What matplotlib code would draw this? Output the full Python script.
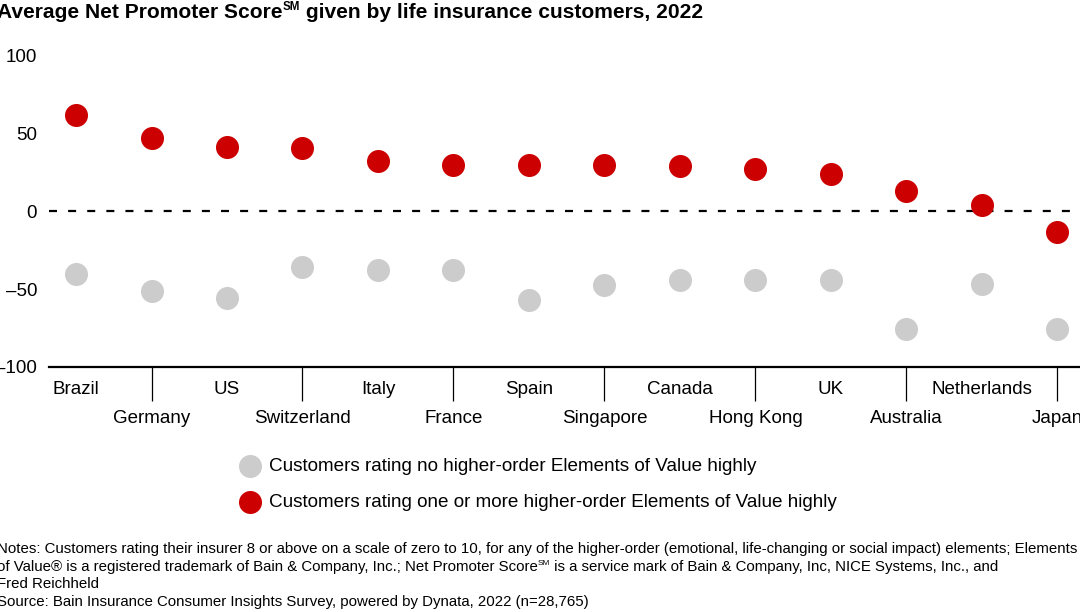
import matplotlib
matplotlib.use("Agg")
import matplotlib.pyplot as plt
import numpy as np

plt.rcParams['font.family'] = ['Liberation Sans', 'DejaVu Sans']
plt.rcParams['axes.unicode_minus'] = False

countries = ["Brazil", "Germany", "US", "Switzerland", "Italy", "France", "Spain",
             "Singapore", "Canada", "Hong Kong", "UK", "Australia", "Netherlands", "Japan"]
nps_high = [62, 47, 41.5, 40.5, 32.5, 30, 30, 29.7, 29.5, 27, 24, 13, 4, -13]
nps_none = [-40.5, -51.5, -55.5, -36, -38, -37.5, -57, -47.5, -44, -44, -44.5, -76, -47, -76]
yticks = [-100, -50, 0, 50, 100]
ytick_labels = ["–100", "–50", "0", "50", "100"]
legend_labels = ["Customers rating no higher-order Elements of Value highly",
                 "Customers rating one or more higher-order Elements of Value highly"]

RED = "#CC0000"
GREY = "#CCCCCC"

W, H = 1080, 612
fig = plt.figure(figsize=(W / 100, H / 100), dpi=100)
renderer = fig.canvas.get_renderer()
ax = fig.add_axes([49 / W, 1 - 366.7 / H, 1 - 49 / W, (366.7 - 56) / H])

x = np.arange(len(countries))
s_none = ax.scatter(x, nps_none, s=275, color=GREY, linewidths=0, zorder=3)
s_high = ax.scatter(x, nps_high, s=275, color=RED, linewidths=0, zorder=3)
ax.axhline(0, color="black", lw=1.6, linestyle=(0, (3.6, 5)), zorder=2)

ax.set_xlim(-0.358, 13.3)
ax.set_ylim(-100, 100)
ax.set_yticks(yticks)
ax.set_yticklabels(ytick_labels)
ax.tick_params(axis='y', length=0, pad=8.5, labelsize=13.5)

even = x[::2]
odd = x[1::2]
ax.set_xticks(even)
ax.set_xticklabels([countries[i] for i in even])
ax.set_xticks(odd, minor=True)
ax.set_xticklabels([countries[i] for i in odd], minor=True)
ax.tick_params(axis='x', which='major', length=0, pad=10, labelsize=13.5)
ax.tick_params(axis='x', which='minor', length=24.5, width=0.9, pad=6.5, labelsize=13.5,
               direction='out', color='black')

for sp in ['top', 'right', 'left']:
    ax.spines[sp].set_visible(False)
ax.spines['bottom'].set_linewidth(1.6)


def seq_text(x_px, y_px, parts, size, weight='normal'):
    """Draw text parts left to right; parts = list of (text, is_superscript)."""
    cur = x_px
    for txt, sup in parts:
        fs = size * 0.55 if sup else size
        dy = size * 0.55 if sup else 0
        t = fig.text(cur / W, 1 - (y_px - dy) / H, txt, fontsize=fs, fontweight=weight,
                     ha='left', va='baseline')
        bb = t.get_window_extent(renderer=renderer)
        cur += bb.width


# title
seq_text(-3, 18, [("Average Net Promoter Score", False), ("SM", True),
                  (" given by life insurance customers, 2022", False)], 15.1, 'bold')

fig.legend([s_none, s_high], legend_labels, loc='upper left',
           bbox_to_anchor=(239 / W, 1 - 458 / H), frameon=False, fontsize=13.6,
           handlelength=1.15, handletextpad=0.45, borderpad=0, borderaxespad=0,
           labelspacing=1.0, markerscale=1.0)

# notes and source
ns = 10.85
seq_text(-3, 553, [("Notes: Customers rating their insurer 8 or above on a scale of zero to 10, for any of the higher-order (emotional, life-changing or social impact) elements; Elements", False)], ns)
seq_text(-3, 571, [("of Value® is a registered trademark of Bain & Company, Inc.; Net Promoter Score", False), ("SM", True),
                   (" is a service mark of Bain & Company, Inc, NICE Systems, Inc., and", False)], ns)
seq_text(-3, 588.5, [("Fred Reichheld", False)], ns)
seq_text(-3, 606, [("Source: Bain Insurance Consumer Insights Survey, powered by Dynata, 2022 (n=28,765)", False)], ns)

fig.savefig("out.png", dpi=100)
